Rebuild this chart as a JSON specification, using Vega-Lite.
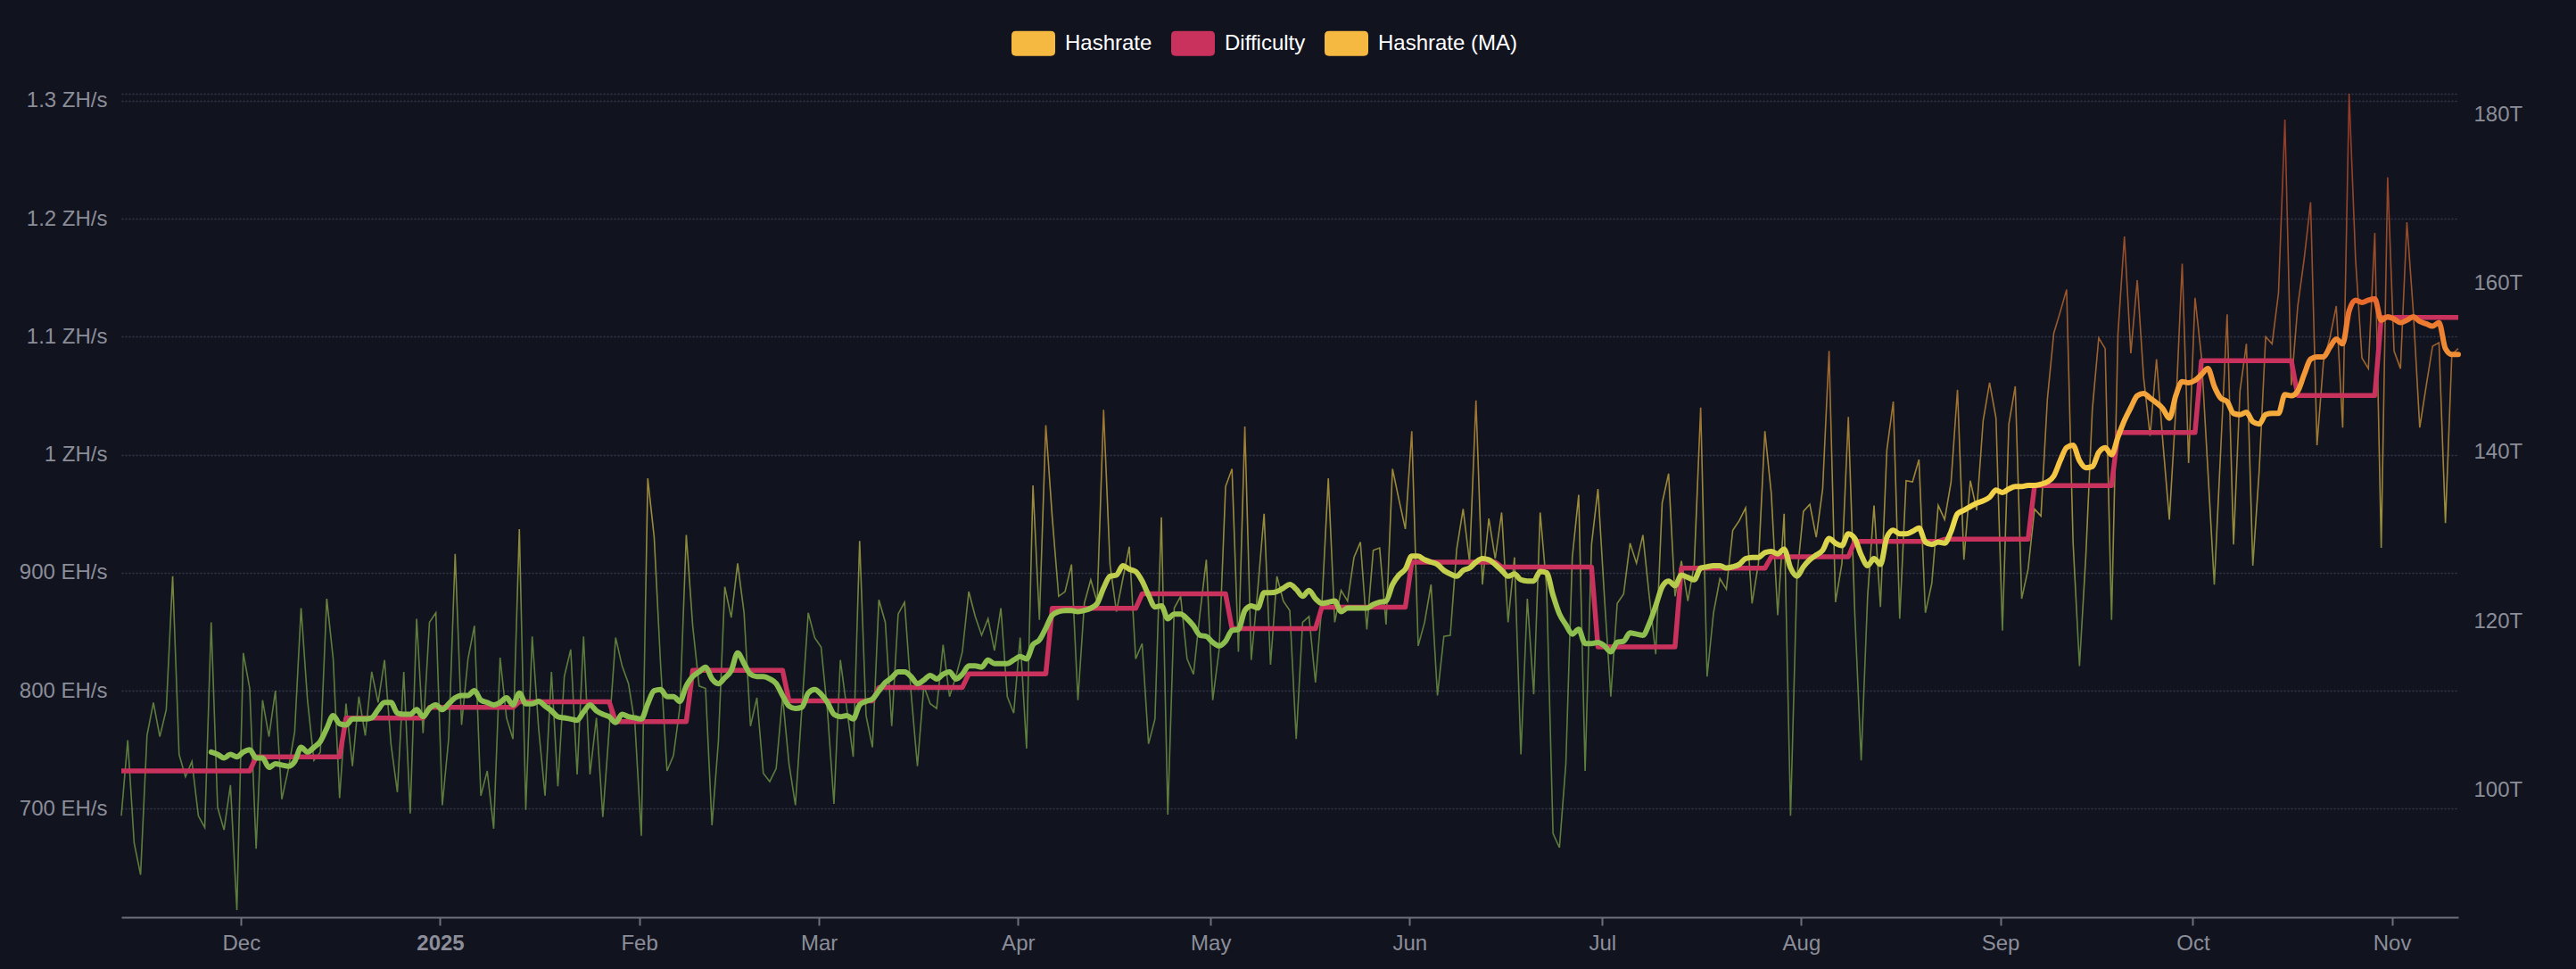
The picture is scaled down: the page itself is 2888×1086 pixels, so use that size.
{
"$schema":"https://vega.github.io/schema/vega-lite/v6.json",
"width":2620,"height":923,
"autosize":{"type":"none"},
"padding":{"left":136,"top":105,"right":132,"bottom":58},
"background":"#11131f",
"config":{"view":{"stroke":null},"font":"Liberation Sans"},
"datasets":{
"hr":[
{"d":"2024-11-12T08:00","h":694},{"d":"2024-11-13T08:00","h":758},{"d":"2024-11-14T08:00","h":671},{"d":"2024-11-15T08:00","h":644},{"d":"2024-11-16T08:00","h":762},{"d":"2024-11-17T08:00","h":790},{"d":"2024-11-18T08:00","h":761},{"d":"2024-11-19T08:00","h":784},{"d":"2024-11-20T08:00","h":897},{"d":"2024-11-21T08:00","h":746},{"d":"2024-11-22T08:00","h":727},{"d":"2024-11-23T08:00","h":740},{"d":"2024-11-24T08:00","h":694},{"d":"2024-11-25T08:00","h":684},
{"d":"2024-11-26T08:00","h":858,"m":748},{"d":"2024-11-27T08:00","h":701,"m":746},{"d":"2024-11-28T08:00","h":682,"m":743},{"d":"2024-11-29T08:00","h":720,"m":746},{"d":"2024-11-30T08:00","h":614,"m":744},
{"d":"2024-12-01T08:00","h":832,"m":748},{"d":"2024-12-02T08:00","h":802,"m":750},{"d":"2024-12-03T08:00","h":666,"m":743},{"d":"2024-12-04T08:00","h":792,"m":743},{"d":"2024-12-05T08:00","h":761,"m":735},{"d":"2024-12-06T08:00","h":800,"m":738},{"d":"2024-12-07T08:00","h":708,"m":737},{"d":"2024-12-08T08:00","h":733,"m":736},{"d":"2024-12-09T08:00","h":765,"m":740},{"d":"2024-12-10T08:00","h":870,"m":752},{"d":"2024-12-11T08:00","h":792,"m":748},{"d":"2024-12-12T08:00","h":741,"m":752},{"d":"2024-12-13T08:00","h":748,"m":757},{"d":"2024-12-14T08:00","h":878,"m":768},{"d":"2024-12-15T08:00","h":827,"m":779},{"d":"2024-12-16T08:00","h":709,"m":772},{"d":"2024-12-17T08:00","h":789,"m":771},{"d":"2024-12-18T08:00","h":736,"m":776},{"d":"2024-12-19T08:00","h":795,"m":776},{"d":"2024-12-20T08:00","h":762,"m":776},{"d":"2024-12-21T08:00","h":816,"m":777},{"d":"2024-12-22T08:00","h":790,"m":784},{"d":"2024-12-23T08:00","h":826,"m":790},{"d":"2024-12-24T08:00","h":755,"m":790},{"d":"2024-12-25T08:00","h":714,"m":781},{"d":"2024-12-26T08:00","h":816,"m":780},{"d":"2024-12-27T08:00","h":696,"m":780},{"d":"2024-12-28T08:00","h":861,"m":784},{"d":"2024-12-29T08:00","h":764,"m":778},{"d":"2024-12-30T08:00","h":858,"m":785},{"d":"2024-12-31T08:00","h":866,"m":788},
{"d":"2025-01-01T08:00","h":703,"m":784},{"d":"2025-01-02T08:00","h":760,"m":789},{"d":"2025-01-03T08:00","h":916,"m":794},{"d":"2025-01-04T08:00","h":771,"m":796},{"d":"2025-01-05T08:00","h":827,"m":796},{"d":"2025-01-06T08:00","h":855,"m":800},{"d":"2025-01-07T08:00","h":711,"m":792},{"d":"2025-01-08T08:00","h":732,"m":790},{"d":"2025-01-09T08:00","h":683,"m":788},{"d":"2025-01-10T08:00","h":828,"m":790},{"d":"2025-01-11T08:00","h":777,"m":794},{"d":"2025-01-12T08:00","h":759,"m":788},{"d":"2025-01-13T08:00","h":937,"m":798},{"d":"2025-01-14T08:00","h":699,"m":789},{"d":"2025-01-15T08:00","h":846,"m":789},{"d":"2025-01-16T08:00","h":768,"m":791},{"d":"2025-01-17T08:00","h":711,"m":787},{"d":"2025-01-18T08:00","h":816,"m":783},{"d":"2025-01-19T08:00","h":719,"m":778},{"d":"2025-01-20T08:00","h":812,"m":777},{"d":"2025-01-21T08:00","h":835,"m":776},{"d":"2025-01-22T08:00","h":729,"m":775},{"d":"2025-01-23T08:00","h":846,"m":782},{"d":"2025-01-24T08:00","h":729,"m":788},{"d":"2025-01-25T08:00","h":777,"m":783},{"d":"2025-01-26T08:00","h":693,"m":780},{"d":"2025-01-27T08:00","h":768,"m":778},{"d":"2025-01-28T08:00","h":845,"m":773},{"d":"2025-01-29T08:00","h":821,"m":780},{"d":"2025-01-30T08:00","h":806,"m":778},{"d":"2025-01-31T08:00","h":772,"m":777},
{"d":"2025-02-01T08:00","h":677,"m":776},{"d":"2025-02-02T08:00","h":980,"m":789},{"d":"2025-02-03T08:00","h":930,"m":800},{"d":"2025-02-04T08:00","h":822,"m":801},{"d":"2025-02-05T08:00","h":732,"m":795},{"d":"2025-02-06T08:00","h":745,"m":795},{"d":"2025-02-07T08:00","h":786,"m":791},{"d":"2025-02-08T08:00","h":932,"m":804},{"d":"2025-02-09T08:00","h":855,"m":812},{"d":"2025-02-10T08:00","h":804,"m":816},{"d":"2025-02-11T08:00","h":802,"m":820},{"d":"2025-02-12T08:00","h":686,"m":810},{"d":"2025-02-13T08:00","h":757,"m":806},{"d":"2025-02-14T08:00","h":888,"m":811},{"d":"2025-02-15T08:00","h":862,"m":817},{"d":"2025-02-16T08:00","h":908,"m":832},{"d":"2025-02-17T08:00","h":866,"m":823},{"d":"2025-02-18T08:00","h":770,"m":814},{"d":"2025-02-19T08:00","h":794,"m":812},{"d":"2025-02-20T08:00","h":730,"m":812},{"d":"2025-02-21T08:00","h":723,"m":810},{"d":"2025-02-22T08:00","h":734,"m":806},{"d":"2025-02-23T08:00","h":795,"m":796},{"d":"2025-02-24T08:00","h":738,"m":787},{"d":"2025-02-25T08:00","h":703,"m":785},{"d":"2025-02-26T08:00","h":785,"m":786},{"d":"2025-02-27T08:00","h":866,"m":798},{"d":"2025-02-28T08:00","h":845,"m":801},
{"d":"2025-03-01T08:00","h":837,"m":797},{"d":"2025-03-02T08:00","h":782,"m":790},{"d":"2025-03-03T08:00","h":704,"m":780},{"d":"2025-03-04T08:00","h":826,"m":778},{"d":"2025-03-05T08:00","h":785,"m":779},{"d":"2025-03-06T08:00","h":744,"m":776},{"d":"2025-03-07T08:00","h":927,"m":788},{"d":"2025-03-08T08:00","h":779,"m":791},{"d":"2025-03-09T08:00","h":752,"m":793},{"d":"2025-03-10T08:00","h":877,"m":800},{"d":"2025-03-11T08:00","h":858,"m":807},{"d":"2025-03-12T08:00","h":770,"m":811},{"d":"2025-03-13T08:00","h":865,"m":816},{"d":"2025-03-14T08:00","h":875,"m":816},{"d":"2025-03-15T08:00","h":799,"m":812},{"d":"2025-03-16T08:00","h":736,"m":806},{"d":"2025-03-17T08:00","h":804,"m":809},{"d":"2025-03-18T08:00","h":789,"m":813},{"d":"2025-03-19T08:00","h":785,"m":810},{"d":"2025-03-20T08:00","h":839,"m":814},{"d":"2025-03-21T08:00","h":795,"m":816},{"d":"2025-03-22T08:00","h":812,"m":810},{"d":"2025-03-23T08:00","h":833,"m":814},{"d":"2025-03-24T08:00","h":884,"m":821},{"d":"2025-03-25T08:00","h":863,"m":821},{"d":"2025-03-26T08:00","h":847,"m":820},{"d":"2025-03-27T08:00","h":861,"m":826},{"d":"2025-03-28T08:00","h":834,"m":823},{"d":"2025-03-29T08:00","h":870,"m":823},{"d":"2025-03-30T08:00","h":795,"m":823},{"d":"2025-03-31T08:00","h":781,"m":826},
{"d":"2025-04-01T08:00","h":845,"m":829},{"d":"2025-04-02T08:00","h":751,"m":827},{"d":"2025-04-03T08:00","h":974,"m":839},{"d":"2025-04-04T08:00","h":860,"m":843},{"d":"2025-04-05T08:00","h":1025,"m":853},{"d":"2025-04-06T08:00","h":947,"m":864},{"d":"2025-04-07T08:00","h":880,"m":867},{"d":"2025-04-08T08:00","h":884,"m":868},{"d":"2025-04-09T08:00","h":907,"m":868},{"d":"2025-04-10T08:00","h":792,"m":867},{"d":"2025-04-11T08:00","h":874,"m":868},{"d":"2025-04-12T08:00","h":894,"m":870},{"d":"2025-04-13T08:00","h":875,"m":874},{"d":"2025-04-14T08:00","h":1038,"m":887},{"d":"2025-04-15T08:00","h":907,"m":897},{"d":"2025-04-16T08:00","h":867,"m":898},{"d":"2025-04-17T08:00","h":895,"m":906},{"d":"2025-04-18T08:00","h":922,"m":903},{"d":"2025-04-19T08:00","h":827,"m":901},{"d":"2025-04-20T08:00","h":840,"m":893},{"d":"2025-04-21T08:00","h":755,"m":881},{"d":"2025-04-22T08:00","h":776,"m":871},{"d":"2025-04-23T08:00","h":947,"m":872},{"d":"2025-04-24T08:00","h":695,"m":861},{"d":"2025-04-25T08:00","h":870,"m":865},{"d":"2025-04-26T08:00","h":880,"m":865},{"d":"2025-04-27T08:00","h":827,"m":861},{"d":"2025-04-28T08:00","h":814,"m":855},{"d":"2025-04-29T08:00","h":865,"m":847},{"d":"2025-04-30T08:00","h":911,"m":846},
{"d":"2025-05-01T08:00","h":792,"m":841},{"d":"2025-05-02T08:00","h":835,"m":838},{"d":"2025-05-03T08:00","h":973,"m":842},{"d":"2025-05-04T08:00","h":988,"m":851},{"d":"2025-05-05T08:00","h":833,"m":852},{"d":"2025-05-06T08:00","h":1024,"m":868},{"d":"2025-05-07T08:00","h":826,"m":872},{"d":"2025-05-08T08:00","h":885,"m":870},{"d":"2025-05-09T08:00","h":950,"m":883},{"d":"2025-05-10T08:00","h":822,"m":883},{"d":"2025-05-11T08:00","h":897,"m":884},{"d":"2025-05-12T08:00","h":876,"m":887},{"d":"2025-05-13T08:00","h":868,"m":890},{"d":"2025-05-14T08:00","h":759,"m":886},{"d":"2025-05-15T08:00","h":858,"m":880},{"d":"2025-05-16T08:00","h":863,"m":885},{"d":"2025-05-17T08:00","h":807,"m":878},{"d":"2025-05-18T08:00","h":873,"m":874},{"d":"2025-05-19T08:00","h":980,"m":875},{"d":"2025-05-20T08:00","h":858,"m":876},{"d":"2025-05-21T08:00","h":885,"m":867},{"d":"2025-05-22T08:00","h":876,"m":870},{"d":"2025-05-23T08:00","h":913,"m":870},{"d":"2025-05-24T08:00","h":926,"m":870},{"d":"2025-05-25T08:00","h":852,"m":870},{"d":"2025-05-26T08:00","h":919,"m":873},{"d":"2025-05-27T08:00","h":921,"m":875},{"d":"2025-05-28T08:00","h":856,"m":876},{"d":"2025-05-29T08:00","h":988,"m":890},{"d":"2025-05-30T08:00","h":962,"m":898},{"d":"2025-05-31T08:00","h":937,"m":903},
{"d":"2025-06-01T08:00","h":1020,"m":914},{"d":"2025-06-02T08:00","h":838,"m":914},{"d":"2025-06-03T08:00","h":858,"m":911},{"d":"2025-06-04T08:00","h":890,"m":909},{"d":"2025-06-05T08:00","h":796,"m":907},{"d":"2025-06-06T08:00","h":846,"m":902},{"d":"2025-06-07T08:00","h":847,"m":899},{"d":"2025-06-08T08:00","h":920,"m":897},{"d":"2025-06-09T08:00","h":954,"m":902},{"d":"2025-06-10T08:00","h":909,"m":904},{"d":"2025-06-11T08:00","h":1046,"m":909},{"d":"2025-06-12T08:00","h":890,"m":912},{"d":"2025-06-13T08:00","h":946,"m":911},{"d":"2025-06-14T08:00","h":912,"m":907},{"d":"2025-06-15T08:00","h":951,"m":902},{"d":"2025-06-16T08:00","h":858,"m":897},{"d":"2025-06-17T08:00","h":913,"m":899},{"d":"2025-06-18T08:00","h":746,"m":894},{"d":"2025-06-19T08:00","h":878,"m":893},{"d":"2025-06-20T08:00","h":797,"m":893},{"d":"2025-06-21T08:00","h":951,"m":901},{"d":"2025-06-22T08:00","h":888,"m":900},{"d":"2025-06-23T08:00","h":679,"m":881},{"d":"2025-06-24T08:00","h":667,"m":865},{"d":"2025-06-25T08:00","h":738,"m":856},{"d":"2025-06-26T08:00","h":913,"m":848},{"d":"2025-06-27T08:00","h":966,"m":852},{"d":"2025-06-28T08:00","h":732,"m":840},{"d":"2025-06-29T08:00","h":924,"m":840},{"d":"2025-06-30T08:00","h":971,"m":841},
{"d":"2025-07-01T08:00","h":880,"m":838},{"d":"2025-07-02T08:00","h":795,"m":833},{"d":"2025-07-03T08:00","h":874,"m":841},{"d":"2025-07-04T08:00","h":882,"m":842},{"d":"2025-07-05T08:00","h":925,"m":849},{"d":"2025-07-06T08:00","h":908,"m":848},{"d":"2025-07-07T08:00","h":932,"m":847},{"d":"2025-07-08T08:00","h":880,"m":857},{"d":"2025-07-09T08:00","h":831,"m":872},{"d":"2025-07-10T08:00","h":959,"m":888},{"d":"2025-07-11T08:00","h":984,"m":893},{"d":"2025-07-12T08:00","h":880,"m":889},{"d":"2025-07-13T08:00","h":910,"m":898},{"d":"2025-07-14T08:00","h":876,"m":896},{"d":"2025-07-15T08:00","h":907,"m":894},{"d":"2025-07-16T08:00","h":1040,"m":904},{"d":"2025-07-17T08:00","h":812,"m":905},{"d":"2025-07-18T08:00","h":866,"m":906},{"d":"2025-07-19T08:00","h":895,"m":906},{"d":"2025-07-20T08:00","h":886,"m":904},{"d":"2025-07-21T08:00","h":936,"m":905},{"d":"2025-07-22T08:00","h":944,"m":907},{"d":"2025-07-23T08:00","h":955,"m":912},{"d":"2025-07-24T08:00","h":874,"m":913},{"d":"2025-07-25T08:00","h":908,"m":913},{"d":"2025-07-26T08:00","h":1020,"m":917},{"d":"2025-07-27T08:00","h":967,"m":918},{"d":"2025-07-28T08:00","h":864,"m":916},{"d":"2025-07-29T08:00","h":950,"m":920},{"d":"2025-07-30T08:00","h":694,"m":904},{"d":"2025-07-31T08:00","h":897,"m":897},
{"d":"2025-08-01T08:00","h":952,"m":905},{"d":"2025-08-02T08:00","h":958,"m":911},{"d":"2025-08-03T08:00","h":930,"m":915},{"d":"2025-08-04T08:00","h":971,"m":919},{"d":"2025-08-05T08:00","h":1088,"m":929},{"d":"2025-08-06T08:00","h":875,"m":925},{"d":"2025-08-07T08:00","h":908,"m":923},{"d":"2025-08-08T08:00","h":1032,"m":933},{"d":"2025-08-09T08:00","h":866,"m":929},{"d":"2025-08-10T08:00","h":741,"m":915},{"d":"2025-08-11T08:00","h":880,"m":906},{"d":"2025-08-12T08:00","h":957,"m":912},{"d":"2025-08-13T08:00","h":871,"m":907},{"d":"2025-08-14T08:00","h":1004,"m":930},{"d":"2025-08-15T08:00","h":1045,"m":936},{"d":"2025-08-16T08:00","h":861,"m":933},{"d":"2025-08-17T08:00","h":978,"m":933},{"d":"2025-08-18T08:00","h":977,"m":935},{"d":"2025-08-19T08:00","h":996,"m":938},{"d":"2025-08-20T08:00","h":866,"m":926},{"d":"2025-08-21T08:00","h":891,"m":924},{"d":"2025-08-22T08:00","h":957,"m":926},{"d":"2025-08-23T08:00","h":945,"m":925},{"d":"2025-08-24T08:00","h":977,"m":935},{"d":"2025-08-25T08:00","h":1055,"m":950},{"d":"2025-08-26T08:00","h":911,"m":953},{"d":"2025-08-27T08:00","h":978,"m":956},{"d":"2025-08-28T08:00","h":953,"m":959},{"d":"2025-08-29T08:00","h":1029,"m":961},{"d":"2025-08-30T08:00","h":1061,"m":964},{"d":"2025-08-31T08:00","h":1031,"m":970},
{"d":"2025-09-01T08:00","h":851,"m":968},{"d":"2025-09-02T08:00","h":1026,"m":971},{"d":"2025-09-03T08:00","h":1058,"m":973},{"d":"2025-09-04T08:00","h":878,"m":973},{"d":"2025-09-05T08:00","h":903,"m":974},{"d":"2025-09-06T08:00","h":954,"m":974},{"d":"2025-09-07T08:00","h":948,"m":975},{"d":"2025-09-08T08:00","h":1047,"m":977},{"d":"2025-09-09T08:00","h":1103,"m":982},{"d":"2025-09-10T08:00","h":1121,"m":995},{"d":"2025-09-11T08:00","h":1140,"m":1006},{"d":"2025-09-12T08:00","h":926,"m":1008},{"d":"2025-09-13T08:00","h":821,"m":995},{"d":"2025-09-14T08:00","h":915,"m":989},{"d":"2025-09-15T08:00","h":1038,"m":990},{"d":"2025-09-16T08:00","h":1099,"m":1002},{"d":"2025-09-17T08:00","h":1090,"m":1006},{"d":"2025-09-18T08:00","h":860,"m":1000},{"d":"2025-09-19T08:00","h":1103,"m":1015},{"d":"2025-09-20T08:00","h":1185,"m":1029},{"d":"2025-09-21T08:00","h":1086,"m":1040},{"d":"2025-09-22T08:00","h":1148,"m":1050},{"d":"2025-09-23T08:00","h":1065,"m":1052},{"d":"2025-09-24T08:00","h":1016,"m":1048},{"d":"2025-09-25T08:00","h":1081,"m":1044},{"d":"2025-09-26T08:00","h":1010,"m":1039},{"d":"2025-09-27T08:00","h":945,"m":1031},{"d":"2025-09-28T08:00","h":1038,"m":1050},{"d":"2025-09-29T08:00","h":1162,"m":1062},{"d":"2025-09-30T08:00","h":993,"m":1061},
{"d":"2025-10-01T08:00","h":1133,"m":1063},{"d":"2025-10-02T08:00","h":1083,"m":1068},{"d":"2025-10-03T08:00","h":987,"m":1073},{"d":"2025-10-04T08:00","h":890,"m":1058},{"d":"2025-10-05T08:00","h":1004,"m":1048},{"d":"2025-10-06T08:00","h":1119,"m":1045},{"d":"2025-10-07T08:00","h":924,"m":1035},{"d":"2025-10-08T08:00","h":1054,"m":1034},{"d":"2025-10-09T08:00","h":1094,"m":1036},{"d":"2025-10-10T08:00","h":906,"m":1028},{"d":"2025-10-11T08:00","h":987,"m":1026},{"d":"2025-10-12T08:00","h":1100,"m":1034},{"d":"2025-10-13T08:00","h":1094,"m":1035},{"d":"2025-10-14T08:00","h":1137,"m":1035},{"d":"2025-10-15T08:00","h":1284,"m":1051},{"d":"2025-10-16T08:00","h":1059,"m":1050},{"d":"2025-10-17T08:00","h":1126,"m":1054},{"d":"2025-10-18T08:00","h":1166,"m":1068},{"d":"2025-10-19T08:00","h":1214,"m":1081},{"d":"2025-10-20T08:00","h":1008,"m":1083},{"d":"2025-10-21T08:00","h":1079,"m":1083},{"d":"2025-10-22T08:00","h":1099,"m":1091},{"d":"2025-10-23T08:00","h":1126,"m":1098},{"d":"2025-10-24T08:00","h":1023,"m":1094},{"d":"2025-10-25T08:00","h":1306,"m":1122},{"d":"2025-10-26T08:00","h":1166,"m":1131},{"d":"2025-10-27T08:00","h":1082,"m":1129},{"d":"2025-10-28T08:00","h":1073,"m":1131},{"d":"2025-10-29T08:00","h":1188,"m":1132},{"d":"2025-10-30T08:00","h":921,"m":1114},{"d":"2025-10-31T08:00","h":1235,"m":1117},
{"d":"2025-11-01T08:00","h":1088,"m":1115},{"d":"2025-11-02T08:00","h":1073,"m":1112},{"d":"2025-11-03T08:00","h":1197,"m":1114},{"d":"2025-11-04T08:00","h":1121,"m":1117},{"d":"2025-11-05T08:00","h":1023,"m":1113},{"d":"2025-11-06T08:00","h":1058,"m":1111},{"d":"2025-11-07T08:00","h":1092,"m":1109},{"d":"2025-11-08T08:00","h":1095,"m":1112},{"d":"2025-11-09T08:00","h":942,"m":1090},{"d":"2025-11-10T08:00","h":1085,"m":1085},{"d":"2025-11-11T08:00","h":1090,"m":1085}
],
"diff":[
{"d":"2024-11-12T08:00","t":102.26},{"d":"2024-12-02T08:00","t":102.26},
{"d":"2024-12-03T08:00","t":103.92},{"d":"2024-12-16T08:00","t":103.92},
{"d":"2024-12-17T08:00","t":108.52},{"d":"2024-12-29T08:00","t":108.52},
{"d":"2024-12-30T08:00","t":109.78},{"d":"2025-01-12T08:00","t":109.78},
{"d":"2025-01-13T08:00","t":110.45},{"d":"2025-01-27T08:00","t":110.45},
{"d":"2025-01-28T08:00","t":108.11},{"d":"2025-02-08T08:00","t":108.11},
{"d":"2025-02-09T08:00","t":114.17},{"d":"2025-02-23T08:00","t":114.17},
{"d":"2025-02-24T08:00","t":110.57},{"d":"2025-03-09T08:00","t":110.57},
{"d":"2025-03-10T08:00","t":112.15},{"d":"2025-03-23T08:00","t":112.15},
{"d":"2025-03-24T08:00","t":113.76},{"d":"2025-04-05T08:00","t":113.76},
{"d":"2025-04-06T08:00","t":121.51},{"d":"2025-04-19T08:00","t":121.51},
{"d":"2025-04-20T08:00","t":123.23},{"d":"2025-05-03T08:00","t":123.23},
{"d":"2025-05-04T08:00","t":119.12},{"d":"2025-05-17T08:00","t":119.12},
{"d":"2025-05-18T08:00","t":121.66},{"d":"2025-05-31T08:00","t":121.66},
{"d":"2025-06-01T08:00","t":126.98},{"d":"2025-06-14T08:00","t":126.98},
{"d":"2025-06-15T08:00","t":126.41},{"d":"2025-06-29T08:00","t":126.41},
{"d":"2025-06-30T08:00","t":116.96},{"d":"2025-07-12T08:00","t":116.96},
{"d":"2025-07-13T08:00","t":126.27},{"d":"2025-07-26T08:00","t":126.27},
{"d":"2025-07-27T08:00","t":127.62},{"d":"2025-08-08T08:00","t":127.62},
{"d":"2025-08-09T08:00","t":129.44},{"d":"2025-08-22T08:00","t":129.44},
{"d":"2025-08-23T08:00","t":129.7},{"d":"2025-09-05T08:00","t":129.7},
{"d":"2025-09-06T08:00","t":136.04},{"d":"2025-09-18T08:00","t":136.04},
{"d":"2025-09-19T08:00","t":142.34},{"d":"2025-10-01T08:00","t":142.34},
{"d":"2025-10-02T08:00","t":150.84},{"d":"2025-10-16T08:00","t":150.84},
{"d":"2025-10-17T08:00","t":146.72},{"d":"2025-10-29T08:00","t":146.72},
{"d":"2025-10-30T08:00","t":155.97},{"d":"2025-11-11T08:00","t":155.97}
],
"leg":[{"s":"Hashrate"},{"s":"Difficulty"},{"s":"Hashrate (MA)"}]
},
"layer":[
{"data":{"name":"hr"},
 "mark":{"type":"line","strokeWidth":1.6,"strokeOpacity":0.62,"interpolate":"linear",
  "stroke":{"gradient":"linear","x1":0,"y1":1,"x2":0,"y2":0,"stops":[
   {"offset":0,"color":"#8bbd4f"},{"offset":0.341,"color":"#8bbd4f"},{"offset":0.413,"color":"#c2cf4e"},{"offset":0.486,"color":"#f0d84c"},{"offset":0.558,"color":"#f6c343"},{"offset":0.63,"color":"#f5a83c"},{"offset":0.702,"color":"#f08a35"},{"offset":0.847,"color":"#e8682e"},{"offset":1,"color":"#e0502a"}]}},
 "encoding":{
  "x":{"field":"d","type":"temporal","scale":{"nice":false},"title":null,
   "axis":{"orient":"bottom","tickCount":{"interval":"month","step":1},"labelExpr":"month(datum.value) === 0 ? timeFormat(datum.value, '%Y') : timeFormat(datum.value, '%b')","labelFontWeight":{"condition":{"test":"month(datum.value) === 0","value":"bold"},"value":"normal"},"grid":false,"domainColor":"#6e717c","domainWidth":2,"tickColor":"#6e717c","tickWidth":2,"tickSize":9,"labelPadding":8,"labelFontSize":24,"labelColor":"#8b8e99","labelOverlap":false,"labelFlush":false,"title":null}},
  "y":{"field":"h","type":"quantitative","scale":{"domain":[608,1306],"nice":false,"zero":false},
   "axis":{"orient":"left","values":[700,800,900,1000,1100,1200,1300,1306],"labelExpr":"datum.value > 1300 ? '' : (datum.value >= 1000 ? (datum.value/1000) + ' ZH/s' : datum.value + ' EH/s')","grid":true,"gridColor":"#363946","gridDash":[2,2],"gridWidth":1.5,"domain":false,"ticks":false,"labelPadding":16,"labelFontSize":24,"labelColor":"#8b8e99","labelOverlap":false,"title":null}}}},
{"data":{"name":"diff"},
 "mark":{"type":"line","strokeWidth":5.5,"color":"#c8325d","interpolate":"linear","strokeJoin":"round"},
 "encoding":{
  "x":{"field":"d","type":"temporal","scale":{"nice":false},"title":null},
  "y":{"field":"t","type":"quantitative","scale":{"domain":[84.94,182.45],"nice":false,"zero":false},
   "axis":{"orient":"right","values":[100,120,140,160,180],"labelExpr":"datum.value + 'T'","grid":false,"domain":false,"ticks":false,"labelPadding":17,"labelFontSize":24,"labelColor":"#8b8e99","title":null}}}},
{"data":{"name":"hr"},
 "mark":{"type":"line","strokeWidth":6,"interpolate":"monotone","strokeCap":"round","strokeJoin":"round",
  "stroke":{"gradient":"linear","x1":0,"y1":1,"x2":0,"y2":0,"stops":[
   {"offset":0,"color":"#8bbd4f"},{"offset":0.29,"color":"#8bbd4f"},{"offset":0.365,"color":"#a8c64e"},{"offset":0.441,"color":"#cdd24d"},{"offset":0.542,"color":"#f2da4c"},{"offset":0.668,"color":"#f6c041"},{"offset":0.793,"color":"#f4a43a"},{"offset":0.919,"color":"#ef8633"},{"offset":1,"color":"#e8692d"}]}},
 "encoding":{
  "x":{"field":"d","type":"temporal","scale":{"nice":false},"title":null},
  "y":{"field":"m","type":"quantitative","scale":{"domain":[608,1306],"nice":false,"zero":false},"axis":null}}},
{"data":{"name":"leg"},
 "mark":{"type":"square","opacity":0},
 "encoding":{
  "color":{"field":"s","type":"nominal","scale":{"domain":["Hashrate","Difficulty","Hashrate (MA)"],"range":["#f5b942","#c8325d","#f5b942"]},
   "legend":{"orient":"none","legendX":998,"legendY":-81,"direction":"horizontal","title":null,
    "symbolType":"M -0.8 -0.57 L 0.8 -0.57 Q 1 -0.57 1 -0.37 L 1 0.37 Q 1 0.57 0.8 0.57 L -0.8 0.57 Q -1 0.57 -1 0.37 L -1 -0.37 Q -1 -0.57 -0.8 -0.57 Z",
    "symbolSize":2401,"symbolStrokeWidth":0,"symbolOpacity":1,"labelFontSize":24,"labelColor":"#ffffff","labelOffset":11,"columnPadding":21,"padding":0,"labelLimit":400,"labelFont":"Liberation Sans"}}}}
],
"resolve":{"scale":{"y":"independent"},"axis":{"y":"independent"}}
}
